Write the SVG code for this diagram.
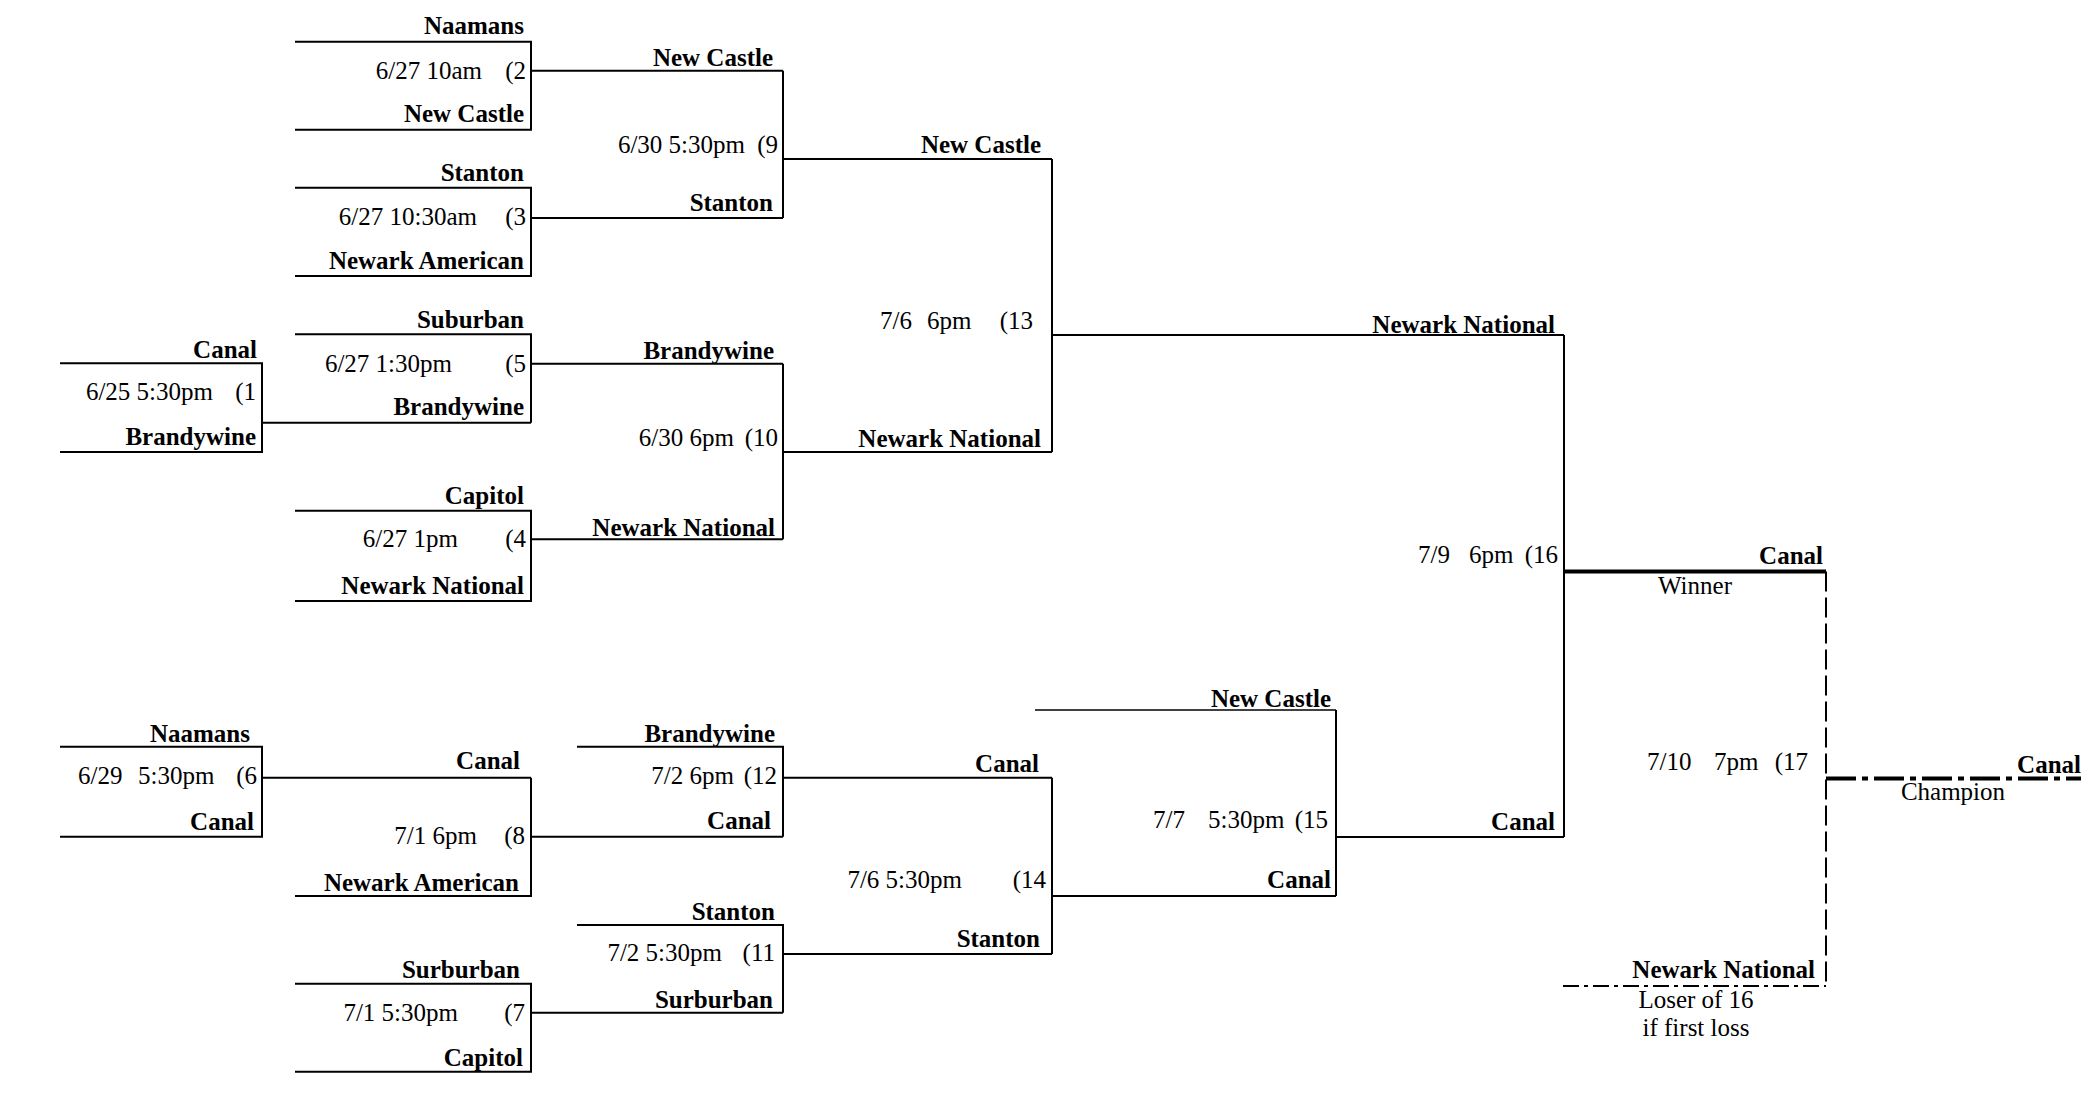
<svg xmlns="http://www.w3.org/2000/svg" width="2099" height="1108" viewBox="0 0 2099 1108">
<style>
.ln{stroke:#000;stroke-width:2;fill:none}
.thin{stroke:#000;stroke-width:1.5;fill:none}
.thick{stroke:#000;stroke-width:4;fill:none}
.vdash{stroke:#000;stroke-width:2;fill:none;stroke-dasharray:20 6}
.dash{stroke:#000;stroke-width:2;fill:none;stroke-dasharray:16 5 4 5}
.champ{stroke:#000;stroke-width:4;fill:none;stroke-dasharray:30 6 6 6}
.b{font-family:"Liberation Serif","Times New Roman",serif;font-weight:bold;font-size:25px;text-anchor:end;fill:#000}
.r{font-family:"Liberation Serif","Times New Roman",serif;font-size:25px;fill:#000}
.e{text-anchor:end}
.m{text-anchor:middle}
</style>
<rect width="2099" height="1108" fill="#fff"/>
<g id="connectors">
<path class="ln" d="M295 41.7H531V129.7H295M531 70.7H783"/>
<path class="ln" d="M295 187.7H531V276H295M531 218H783"/>
<path class="ln" d="M783 70.7V218M783 159H1052"/>
<path class="ln" d="M60 363.3H262V452H60M262 422.7H531"/>
<path class="ln" d="M295 334.3H531V422.7M531 363.7H783"/>
<path class="ln" d="M295 510.7H531V601H295M531 539.3H783"/>
<path class="ln" d="M783 363.7V539.3M783 452H1052"/>
<path class="ln" d="M1052 159V452M1052 335H1564"/>
<path class="ln" d="M1564 335V837"/>
<path class="thick" d="M1564 571.5H1826"/>
<path class="ln" d="M60 746.7H262V836.7H60M262 777.7H531"/>
<path class="ln" d="M531 777.7V896H295M531 836.7H783"/>
<path class="ln" d="M577 746.7H783V836.7M783 777.7H1052"/>
<path class="ln" d="M295 983.7H531V1071.7H295M531 1012.7H783"/>
<path class="ln" d="M577 925H783V1012.7M783 954H1052"/>
<path class="ln" d="M1052 777.7V954M1052 896H1336"/>
<path class="thin" d="M1035 710H1336"/>
<path class="ln" d="M1336 710V896M1336 837H1564"/>
<path class="vdash" d="M1826 571.5V986"/>
<path class="dash" d="M1563 986H1826"/>
<path class="champ" d="M1826 778.5H2081"/>
</g>
<g id="game-2">
<text class="b" x="524" y="34">Naamans</text>
<text class="r e" x="482" y="79">6/27 10am</text>
<text class="r e" x="526" y="79">(2</text>
<text class="b" x="524" y="122">New Castle</text>
</g>
<g id="game-3">
<text class="b" x="524" y="181">Stanton</text>
<text class="r e" x="477" y="225">6/27 10:30am</text>
<text class="r e" x="526" y="225">(3</text>
<text class="b" x="524" y="269">Newark American</text>
</g>
<g id="game-9">
<text class="b" x="773" y="66">New Castle</text>
<text class="r e" x="745" y="153">6/30 5:30pm</text>
<text class="r e" x="778" y="153">(9</text>
<text class="b" x="773" y="211">Stanton</text>
</g>
<g id="game-1">
<text class="b" x="257" y="358">Canal</text>
<text class="r e" x="213" y="400">6/25 5:30pm</text>
<text class="r e" x="256" y="400">(1</text>
<text class="b" x="256" y="445">Brandywine</text>
</g>
<g id="game-5">
<text class="b" x="524" y="328">Suburban</text>
<text class="r e" x="452" y="372">6/27 1:30pm</text>
<text class="r e" x="526" y="372">(5</text>
<text class="b" x="524" y="415">Brandywine</text>
</g>
<g id="game-4">
<text class="b" x="524" y="504">Capitol</text>
<text class="r e" x="458" y="547">6/27 1pm</text>
<text class="r e" x="526" y="547">(4</text>
<text class="b" x="524" y="594">Newark National</text>
</g>
<g id="game-10">
<text class="b" x="774" y="359">Brandywine</text>
<text class="r e" x="734" y="446">6/30 6pm</text>
<text class="r e" x="778" y="446">(10</text>
<text class="b" x="775" y="536">Newark National</text>
</g>
<g id="game-13">
<text class="b" x="1041" y="153">New Castle</text>
<text class="r" y="329"><tspan x="880">7/6</tspan><tspan x="927">6pm</tspan></text>
<text class="r e" x="1033" y="329">(13</text>
<text class="b" x="1041" y="447">Newark National</text>
</g>
<g id="game-16">
<text class="b" x="1555" y="333">Newark National</text>
<text class="r" y="563"><tspan x="1418">7/9</tspan><tspan x="1469">6pm</tspan></text>
<text class="r e" x="1558" y="563">(16</text>
<text class="b" x="1555" y="830">Canal</text>
<text class="b" x="1823" y="564">Canal</text>
<text class="r m" x="1695" y="594">Winner</text>
</g>
<g id="game-6">
<text class="b" x="250" y="742">Naamans</text>
<text class="r" y="784"><tspan x="78">6/29</tspan><tspan x="138">5:30pm</tspan></text>
<text class="r e" x="257" y="784">(6</text>
<text class="b" x="254" y="830">Canal</text>
</g>
<g id="game-8">
<text class="b" x="520" y="769">Canal</text>
<text class="r e" x="477" y="844">7/1 6pm</text>
<text class="r e" x="525" y="844">(8</text>
<text class="b" x="519" y="891">Newark American</text>
</g>
<g id="game-12">
<text class="b" x="775" y="742">Brandywine</text>
<text class="r e" x="734" y="784">7/2 6pm</text>
<text class="r e" x="777" y="784">(12</text>
<text class="b" x="771" y="829">Canal</text>
</g>
<g id="game-7">
<text class="b" x="520" y="978">Surburban</text>
<text class="r e" x="458" y="1021">7/1 5:30pm</text>
<text class="r e" x="525" y="1021">(7</text>
<text class="b" x="523" y="1066">Capitol</text>
</g>
<g id="game-11">
<text class="b" x="775" y="920">Stanton</text>
<text class="r e" x="722" y="961">7/2 5:30pm</text>
<text class="r e" x="775" y="961">(11</text>
<text class="b" x="773" y="1008">Surburban</text>
</g>
<g id="game-14">
<text class="b" x="1039" y="772">Canal</text>
<text class="r e" x="962" y="888">7/6 5:30pm</text>
<text class="r e" x="1046" y="888">(14</text>
<text class="b" x="1040" y="947">Stanton</text>
</g>
<g id="game-15">
<text class="b" x="1331" y="707">New Castle</text>
<text class="r" y="828"><tspan x="1153">7/7</tspan><tspan x="1208">5:30pm</tspan></text>
<text class="r e" x="1328" y="828">(15</text>
<text class="b" x="1331" y="888">Canal</text>
</g>
<g id="game-17">
<text class="r" y="770"><tspan x="1647">7/10</tspan><tspan x="1714">7pm</tspan></text>
<text class="r e" x="1808" y="770">(17</text>
<text class="b" x="2081" y="773">Canal</text>
<text class="r m" x="1953" y="800">Champion</text>
<text class="b" x="1815" y="978">Newark National</text>
<text class="r m" x="1696" y="1008">Loser of 16</text>
<text class="r m" x="1696" y="1036">if first loss</text>
</g>
</svg>
